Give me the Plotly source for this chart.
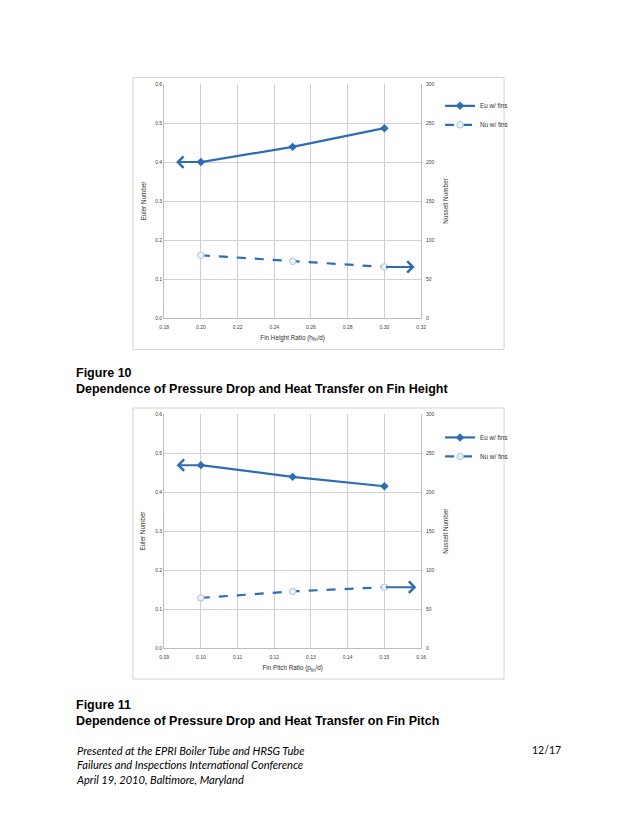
import plotly.graph_objects as go

# ---------------- data ----------------
# Figure 10: fin height ratio
fh_x = [0.20, 0.25, 0.30]
fh_eu = [0.400, 0.439, 0.487]
fh_nu = [80.5, 72.7, 65.5]
fh_x_ticks = [0.18, 0.20, 0.22, 0.24, 0.26, 0.28, 0.30, 0.32]
fh_eu_arrow_tip = 0.1865   # arrow pointing to the Euler axis
fh_nu_arrow_tip = 0.3165   # arrow pointing to the Nusselt axis

# Figure 11: fin pitch ratio
fp_x = [0.100, 0.125, 0.150]
fp_eu = [0.469, 0.439, 0.415]
fp_nu = [64.5, 72.8, 78.2]
fp_x_ticks = [0.09, 0.10, 0.11, 0.12, 0.13, 0.14, 0.15, 0.16]
fp_eu_arrow_tip = 0.0934
fp_nu_arrow_tip = 0.1587

eu_ticks = [0.0, 0.1, 0.2, 0.3, 0.4, 0.5, 0.6]
nu_ticks = [0, 50, 100, 150, 200, 250, 300]

series_names = ["Eu w/ fins", "Nu w/ fins"]
captions = [
    "Figure 10<br>Dependence of Pressure Drop and Heat Transfer on Fin Height",
    "Figure 11<br>Dependence of Pressure Drop and Heat Transfer on Fin Pitch",
]
footer_lines = [
    "Presented at the EPRI Boiler Tube and HRSG Tube",
    "Failures and Inspections International Conference",
    "April 19, 2010, Baltimore, Maryland",
]
page_label = "12/17"

# ---------------- styling ----------------
W, H = 638, 826
BLUE = "#2E6DB5"
GRID = "#D0D0D0"
AXIS = "#BDBDBD"
TICK_FONT = dict(family="Liberation Sans", size=5, color="#404040")
TITLE_FONT = dict(family="Liberation Sans", size=6.3, color="#303030")


def px_x(p):
    return p / W


def px_y(p):
    return 1 - p / H


plot_x = [px_x(161.7), px_x(422.7)]
dom1 = [px_y(317.3), px_y(81.7)]
dom2 = [px_y(650.0), px_y(414.0)]

fig = go.Figure()

# chart 1 traces
fig.add_trace(go.Scatter(x=fh_x, y=fh_eu, name=series_names[0], mode="lines+markers",
                         line=dict(color=BLUE, width=2.2),
                         marker=dict(symbol="diamond", size=6.5, color=BLUE),
                         xaxis="x", yaxis="y", legend="legend", legendgroup="a"))
fig.add_trace(go.Scatter(x=fh_x, y=fh_nu, name=series_names[1], mode="lines+markers",
                         line=dict(color=BLUE, width=2.2, dash="dash"),
                         marker=dict(symbol="circle", size=6.5, color="#EAF1FA",
                                     line=dict(color="#A9C4E4", width=1)),
                         xaxis="x", yaxis="y2", legend="legend", legendgroup="b"))
# chart 2 traces
fig.add_trace(go.Scatter(x=fp_x, y=fp_eu, name=series_names[0], mode="lines+markers",
                         line=dict(color=BLUE, width=2.2),
                         marker=dict(symbol="diamond", size=6.5, color=BLUE),
                         xaxis="x2", yaxis="y3", legend="legend2", legendgroup="c"))
fig.add_trace(go.Scatter(x=fp_x, y=fp_nu, name=series_names[1], mode="lines+markers",
                         line=dict(color=BLUE, width=2.2, dash="dash"),
                         marker=dict(symbol="circle", size=6.5, color="#EAF1FA",
                                     line=dict(color="#A9C4E4", width=1)),
                         xaxis="x2", yaxis="y4", legend="legend2", legendgroup="d"))


def xaxis(domain, anchor, ticks, title):
    return dict(domain=domain, anchor=anchor, range=[ticks[0], ticks[-1]],
                tickvals=ticks, tickformat=".2f", showgrid=True, gridcolor=GRID,
                gridwidth=1, showline=True, linecolor=AXIS, zeroline=False,
                tickfont=TICK_FONT, ticks="", ticklen=0, ticklabelstandoff=4,
                title=dict(text=title, font=TITLE_FONT, standoff=6))


def yleft(domain, anchor):
    return dict(domain=domain, anchor=anchor, range=[0, 0.6], tickvals=eu_ticks,
                tickformat=".1f", showgrid=True, gridcolor=GRID, showline=True,
                linecolor=AXIS, zeroline=False, tickfont=TICK_FONT, ticks="",
                title=dict(text="Euler Number", font=TITLE_FONT, standoff=8))


def yright(overlay, anchor):
    return dict(overlaying=overlay, anchor=anchor, side="right", range=[0, 300],
                tickvals=nu_ticks, showgrid=False, showline=True, linecolor=AXIS,
                zeroline=False, tickfont=TICK_FONT, ticks="", ticklabelstandoff=3,
                title=dict(text="Nusselt Number", font=TITLE_FONT, standoff=9))


# arrows pointing to the relevant axis
arrows = [
    dict(x=fh_eu_arrow_tip, y=fh_eu[0], ax=fh_x[0], ay=fh_eu[0], xref="x", yref="y", axref="x", ayref="y"),
    dict(x=fh_nu_arrow_tip, y=fh_nu[-1], ax=fh_x[-1], ay=fh_nu[-1], xref="x", yref="y2", axref="x", ayref="y2"),
    dict(x=fp_eu_arrow_tip, y=fp_eu[0], ax=fp_x[0], ay=fp_eu[0], xref="x2", yref="y3", axref="x2", ayref="y3"),
    dict(x=fp_nu_arrow_tip, y=fp_nu[-1], ax=fp_x[-1], ay=fp_nu[-1], xref="x2", yref="y4", axref="x2", ayref="y4"),
]
annotations = []
for a in arrows:
    a.update(text="", showarrow=True, arrowhead=4, arrowsize=1.1, arrowwidth=2,
             arrowcolor=BLUE, standoff=0, startstandoff=0)
    annotations.append(a)

CAP_FONT = dict(family="Liberation Sans", size=12.5, color="#000000")
annotations.append(dict(text="<b>" + captions[0].replace("<br>", "</b><br><b>") + "</b>",
                        x=px_x(70), y=px_y(364), xref="paper", yref="paper",
                        xanchor="left", yanchor="top", align="left", showarrow=False,
                        font=CAP_FONT))
annotations.append(dict(text="<b>" + captions[1].replace("<br>", "</b><br><b>") + "</b>",
                        x=px_x(70), y=px_y(698), xref="paper", yref="paper",
                        xanchor="left", yanchor="top", align="left", showarrow=False,
                        font=CAP_FONT))
FOOT_FONT = dict(family="Lato", size=11.1, color="#000000")
annotations.append(dict(text="<br>".join("<i>" + t + "</i>" for t in footer_lines),
                        x=px_x(70), y=px_y(744), xref="paper", yref="paper",
                        xanchor="left", yanchor="top", align="left", showarrow=False,
                        font=FOOT_FONT))
annotations.append(dict(text=page_label, x=px_x(567), y=px_y(744), xref="paper", yref="paper",
                        xanchor="right", yanchor="top", showarrow=False,
                        font=dict(family="Lato", size=10.5, color="#000000")))

shapes = [
    dict(type="rect", xref="paper", yref="paper", x0=px_x(130), x1=px_x(507),
         y0=px_y(349), y1=px_y(75), line=dict(color="#D4D4D4", width=1)),
    dict(type="rect", xref="paper", yref="paper", x0=px_x(130), x1=px_x(507),
         y0=px_y(681), y1=px_y(408), line=dict(color="#D4D4D4", width=1)),
]

LEG_FONT = dict(family="Liberation Sans", size=6.3, color="#303030")
fig.update_layout(
    width=W, height=H, margin=dict(l=0, r=0, t=0, b=0),
    paper_bgcolor="white", plot_bgcolor="white", showlegend=True,
    xaxis=xaxis(plot_x, "y", fh_x_ticks, "Fin Height Ratio (h<sub>fin</sub>/d)"),
    yaxis=yleft(dom1, "x"),
    yaxis2=yright("y", "x"),
    xaxis2=xaxis(plot_x, "y3", fp_x_ticks, "Fin Pitch Ratio (p<sub>fin</sub>/d)"),
    yaxis3=yleft(dom2, "x2"),
    yaxis4=yright("y3", "x2"),
    legend=dict(x=px_x(442), y=px_y(89), xanchor="left", yanchor="top",
                font=LEG_FONT, bgcolor="rgba(0,0,0,0)", tracegroupgap=0, itemwidth=30),
    legend2=dict(x=px_x(442), y=px_y(423), xanchor="left", yanchor="top",
                 font=LEG_FONT, bgcolor="rgba(0,0,0,0)", tracegroupgap=0, itemwidth=30),
    annotations=annotations, shapes=shapes,
)

fig.write_html("out.html", config={"displayModeBar": False},
               post_script="document.body.style.margin='0px';")
